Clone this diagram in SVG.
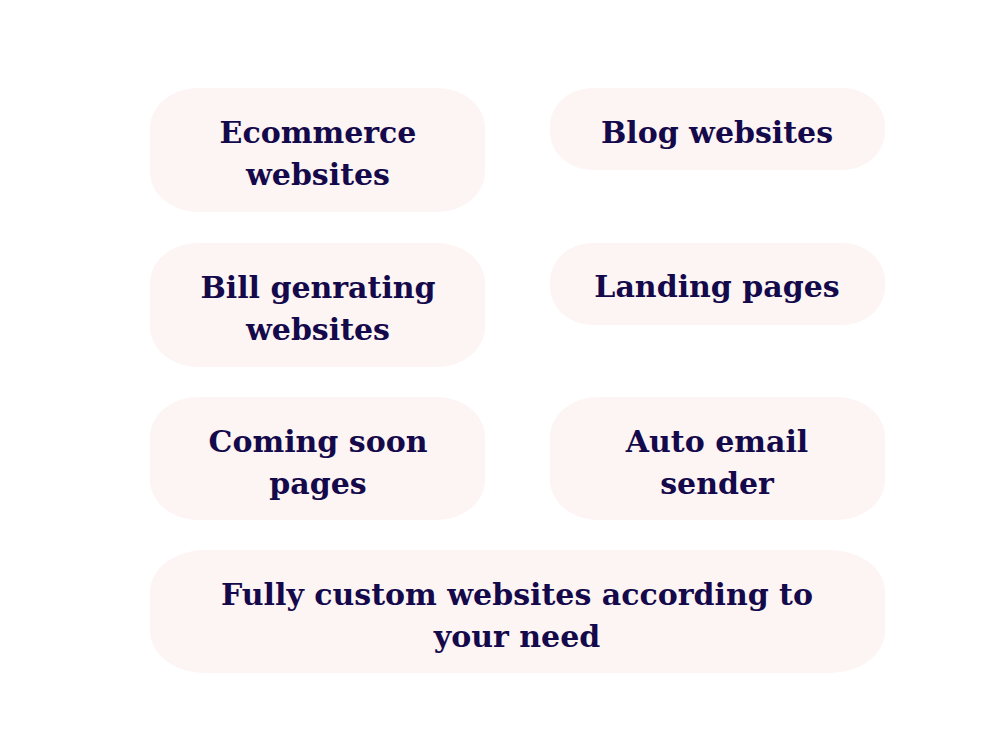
<svg xmlns="http://www.w3.org/2000/svg" width="1000" height="750" viewBox="0 0 1000 750">
<style>
.b{fill:#fdf4f4}
.t{font-family:"DejaVu Serif","Liberation Serif",serif;font-weight:bold;font-size:30px;fill:#14094a;text-anchor:middle}
</style>
<rect width="1000" height="750" fill="#fff"/>
<g id="n1"><rect class="b" x="150" y="88" width="335" height="124" rx="48" ry="40"/><text class="t" x="318" y="143">Ecommerce</text><text class="t" x="318" y="185">websites</text></g>
<g id="n2"><rect class="b" x="550" y="88" width="335" height="82" rx="42" ry="38"/><text class="t" x="717" y="143">Blog websites</text></g>
<g id="n3"><rect class="b" x="150" y="243" width="335" height="124" rx="48" ry="40"/><text class="t" x="318" y="298">Bill genrating</text><text class="t" x="318" y="340">websites</text></g>
<g id="n4"><rect class="b" x="550" y="243" width="335" height="82" rx="42" ry="38"/><text class="t" x="717" y="297">Landing pages</text></g>
<g id="n5"><rect class="b" x="150" y="397" width="335" height="123" rx="48" ry="40"/><text class="t" x="318" y="452">Coming soon</text><text class="t" x="318" y="494">pages</text></g>
<g id="n6"><rect class="b" x="550" y="397" width="335" height="123" rx="48" ry="40"/><text class="t" x="717" y="452">Auto email</text><text class="t" x="717" y="494">sender</text></g>
<g id="n7"><rect class="b" x="150" y="550" width="735" height="123" rx="55" ry="42"/><text class="t" x="517" y="605">Fully custom websites according to</text><text class="t" x="517" y="647">your need</text></g>
<g id="connectors"/>
</svg>
